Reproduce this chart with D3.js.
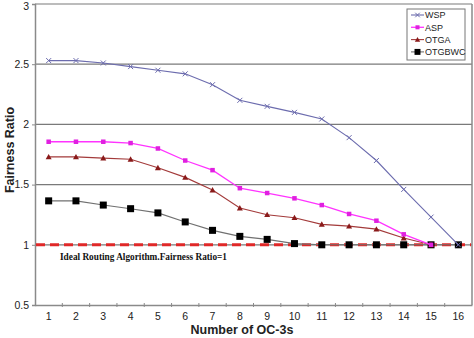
<!DOCTYPE html>
<html><head><meta charset="utf-8">
<script src="https://cdn.jsdelivr.net/npm/d3@7"></script>
<style>body{margin:0;background:#fff}svg{display:block}</style>
</head><body>
<svg id="c" width="474" height="338"></svg>
<script>
const categories = [1,2,3,4,5,6,7,8,9,10,11,12,13,14,15,16];
const wsp    = [2.53,2.53,2.51,2.48,2.45,2.42,2.33,2.20,2.15,2.10,2.045,1.89,1.70,1.46,1.23,1.0];
const asp    = [1.856,1.856,1.856,1.845,1.80,1.70,1.62,1.47,1.43,1.386,1.33,1.256,1.20,1.087,1.0];
const otga   = [1.73,1.73,1.72,1.71,1.64,1.56,1.455,1.305,1.25,1.225,1.17,1.155,1.13,1.056,1.0];
const otgbwc = [1.365,1.365,1.33,1.30,1.265,1.19,1.12,1.07,1.045,1.01,1.0,1.0,1.0,1.0,1.0,1.0];
const yTicks = [0.5,1,1.5,2,2.5,3];
const yTickLabels = ["0.5","1","1.5","2","2.5","3"];
const seriesNames = ["WSP","ASP","OTGA","OTGBWC"];
const idealValue = 1;
const idealLabel = "Ideal Routing Algorithm.Fairness Ratio=1";

const svg = d3.select("#c");
const L=35, R=472, T=4, B=305;
const x = d3.scaleBand().domain(categories).range([L,R]).padding(0);
const y = d3.scaleLinear().domain([0.5,3]).range([B,T]);
const cx = d => x(d) + x.bandwidth()/2;

// gridlines
svg.append("g").selectAll("line").data(yTicks.filter(v=>v>0.5)).join("line")
  .attr("x1",L).attr("x2",R).attr("y1",d=>y(d)).attr("y2",d=>y(d))
  .attr("stroke","#7a7a7a").attr("stroke-width",1.2);
// right border
svg.append("line").attr("x1",R).attr("x2",R).attr("y1",T).attr("y2",B).attr("stroke","#8a8a8a").attr("stroke-width",1.5);

// y axis
const yAxis = d3.axisLeft(y).tickValues(yTicks).tickFormat((d,i)=>yTickLabels[i]).tickSize(3).tickPadding(3);
const gy = svg.append("g").attr("transform",`translate(${L},0)`).call(yAxis);
gy.select(".domain").attr("stroke","#8a8a8a").attr("stroke-width",1.5);
gy.selectAll(".tick line").attr("stroke","#8a8a8a");
gy.selectAll("text").attr("font-family","Arial, Liberation Sans, sans-serif").attr("font-size","10.5px").attr("fill","#222");
gy.selectAll(".tick").filter(d=>d===3).select("text").attr("dy","0.55em");

// x axis
const xAxis = d3.axisBottom(x).tickSize(0).tickPadding(8);
const gx = svg.append("g").attr("transform",`translate(0,${B})`).call(xAxis);
gx.select(".domain").attr("stroke","#8a8a8a").attr("stroke-width",1.5);
gx.selectAll("text").attr("font-family","Arial, Liberation Sans, sans-serif").attr("font-size","10.5px").attr("fill","#222");
// tick marks at band boundaries
svg.append("g").selectAll("line").data(categories.slice(1)).join("line")
  .attr("x1",d=>x(d)).attr("x2",d=>x(d)).attr("y1",B-2).attr("y2",B+2)
  .attr("stroke","#8a8a8a").attr("stroke-width",1);

// ideal dashed line
svg.append("line").attr("x1",L+1).attr("x2",R-1).attr("y1",y(idealValue)).attr("y2",y(idealValue))
  .attr("stroke","#e02828").attr("stroke-width",3).attr("stroke-dasharray","9,5");
svg.append("text").attr("x",60).attr("y",y(idealValue)+15)
  .attr("font-family","Liberation Serif, DejaVu Serif, serif").attr("font-weight","bold").attr("font-size","10px")
  .attr("textLength",167).attr("lengthAdjust","spacingAndGlyphs").attr("fill","#111").text(idealLabel);

const line = d3.line().x((d,i)=>cx(categories[i])).y(d=>y(d));
const styles = [
  {data:wsp, color:"#6c6cae", lw:1.1, marker:"x"},
  {data:asp, color:"#ff33ff", lw:1.3, marker:"sq", mcolor:"#e020e0", ms:4.5},
  {data:otga, color:"#a33a3a", lw:1.1, marker:"tri", mcolor:"#8a1a1a"},
  {data:otgbwc, color:"#707070", lw:1.1, marker:"sq", mcolor:"#000", ms:7}
];
function drawMarker(g, s, px, py, scale){
  scale = scale||1;
  if(s.marker==="x"){
    const r=2.5*scale;
    g.append("path").attr("d",`M${px-r},${py-r}L${px+r},${py+r}M${px-r},${py+r}L${px+r},${py-r}`)
      .attr("stroke",s.color).attr("stroke-width",1).attr("fill","none");
  } else if(s.marker==="sq"){
    const m=s.ms*scale;
    g.append("rect").attr("x",px-m/2).attr("y",py-m/2).attr("width",m).attr("height",m).attr("fill",s.mcolor);
  } else {
    const r=3*scale;
    g.append("path").attr("d",`M${px},${py-r}L${px+r},${py+r*0.8}L${px-r},${py+r*0.8}Z`).attr("fill",s.mcolor);
  }
}
styles.slice().reverse().forEach(s=>{
  const g = svg.append("g");
  g.append("path").attr("d",line(s.data)).attr("fill","none").attr("stroke",s.color).attr("stroke-width",s.lw);
  s.data.forEach((v,i)=>drawMarker(g,s,cx(categories[i]),y(v)));
});

// axis titles
svg.append("text").attr("transform","translate(14,150) rotate(-90)").attr("text-anchor","middle")
  .attr("font-family","Arial, Liberation Sans, sans-serif").attr("font-weight","bold").attr("font-size","12.5px").attr("fill","#222").text("Fairness Ratio");
svg.append("text").attr("x",242).attr("y",334).attr("text-anchor","middle")
  .attr("font-family","Arial, Liberation Sans, sans-serif").attr("font-weight","bold").attr("font-size","12.5px").attr("fill","#222").text("Number of OC-3s");

// legend
const lg = svg.append("g");
lg.append("rect").attr("x",407).attr("y",9).attr("width",58).attr("height",51).attr("fill","#fff").attr("stroke","#777").attr("stroke-width",1);
seriesNames.forEach((n,i)=>{
  const s=styles[i], ly=15+i*12.3;
  lg.append("line").attr("x1",411).attr("x2",424).attr("y1",ly).attr("y2",ly).attr("stroke",s.color).attr("stroke-width",s.lw);
  drawMarker(lg,s,417.5,ly, s.marker==="sq" && s.ms>5 ? 0.85 : 0.9);
  lg.append("text").attr("x",425).attr("y",ly+3.3).attr("font-family","Arial, Liberation Sans, sans-serif")
    .attr("font-size","9px").attr("fill","#222").text(n);
});
</script>
</body></html>
